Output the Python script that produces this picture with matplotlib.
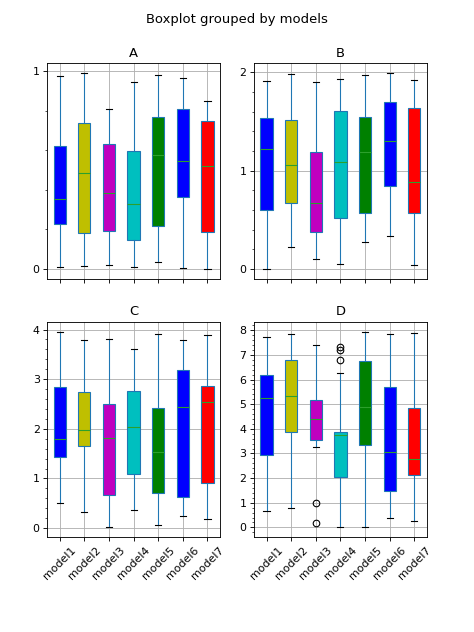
import matplotlib
matplotlib.use("Agg")
import matplotlib.pyplot as plt
from matplotlib.ticker import MultipleLocator

models = ["model1", "model2", "model3", "model4", "model5", "model6", "model7"]
box_colors = ["b", "y", "m", "c", "g", "b", "r"]
panels = ["A", "B", "C", "D"]

# per-panel stats: whislo, q1, med, q3, whishi
A_whislo = [0.010, 0.015, 0.020, 0.010, 0.035, 0.002, 0.000]
A_q1     = [0.225, 0.181, 0.193, 0.145, 0.216, 0.365, 0.188]
A_med    = [0.353, 0.485, 0.383, 0.328, 0.576, 0.546, 0.520]
A_q3     = [0.622, 0.738, 0.632, 0.598, 0.769, 0.806, 0.745]
A_whishi = [0.973, 0.990, 0.806, 0.943, 0.978, 0.963, 0.850]

B_whislo = [0.000, 0.224, 0.098, 0.054, 0.271, 0.336, 0.037]
B_q1     = [0.600, 0.675, 0.380, 0.515, 0.566, 0.841, 0.573]
B_med    = [1.224, 1.054, 0.675, 1.092, 1.186, 1.302, 0.881]
B_q3     = [1.532, 1.515, 1.190, 1.607, 1.542, 1.702, 1.641]
B_whishi = [1.915, 1.983, 1.902, 1.929, 1.976, 1.993, 1.925]

C_whislo = [0.496, 0.322, 0.013, 0.369, 0.054, 0.248, 0.174]
C_q1     = [1.441, 1.648, 0.670, 1.092, 0.710, 0.630, 0.898]
C_med    = [1.796, 1.970, 1.809, 2.030, 1.541, 2.439, 2.533]
C_q3     = [2.834, 2.734, 2.506, 2.754, 2.425, 3.176, 2.861]
C_whishi = [3.960, 3.792, 3.812, 3.611, 3.920, 3.792, 3.893]

D_whislo = [0.676, 0.770, 3.243, 0.000, 0.000, 0.378, 0.270]
D_q1     = [2.946, 3.851, 3.527, 2.054, 3.324, 1.459, 2.108]
D_med    = [5.257, 5.324, 4.405, 3.730, 4.892, 3.068, 2.784]
D_q3     = [6.176, 6.797, 5.149, 3.865, 6.743, 5.703, 4.824]
D_whishi = [7.716, 7.851, 7.419, 6.284, 7.946, 7.865, 7.905]
D_fliers = [[], [], [0.986, 0.189], [7.338, 7.189, 6.784], [], [], []]

data = {
    "A": (A_whislo, A_q1, A_med, A_q3, A_whishi, [[]] * 7),
    "B": (B_whislo, B_q1, B_med, B_q3, B_whishi, [[]] * 7),
    "C": (C_whislo, C_q1, C_med, C_q3, C_whishi, [[]] * 7),
    "D": (D_whislo, D_q1, D_med, D_q3, D_whishi, D_fliers),
}

fig, axes = plt.subplots(2, 2, figsize=(6, 8), dpi=79)
fig.subplots_adjust(left=0.1, right=0.9, top=0.9, bottom=0.15, wspace=0.2, hspace=0.2)
fig.suptitle("Boxplot grouped by models")

for ax, name in zip(axes.flat, panels):
    wl, q1, med, q3, wh, fl = data[name]
    stats = []
    for i, m in enumerate(models):
        stats.append(dict(label=m, whislo=wl[i], q1=q1[i], med=med[i],
                          q3=q3[i], whishi=wh[i], fliers=fl[i]))
    bp = ax.bxp(stats, positions=range(1, 8), widths=0.5, patch_artist=True,
                boxprops=dict(edgecolor="C0"),
                whiskerprops=dict(color="C0"),
                capprops=dict(color="k"),
                medianprops=dict(color="C2"),
                flierprops=dict(marker="o", markerfacecolor="none",
                                markeredgecolor="k"))
    for patch, c in zip(bp["boxes"], box_colors):
        patch.set_facecolor(c)
    ax.set_title(name)
    ax.grid(True)
    ax.yaxis.set_major_locator(MultipleLocator(1))
    ax.yaxis.set_minor_locator(MultipleLocator(0.2))
    if name in ("A", "B"):
        ax.set_xticklabels([])
    else:
        ax.set_xticklabels(models, rotation=45)

fig.savefig("out.png", dpi=79)
